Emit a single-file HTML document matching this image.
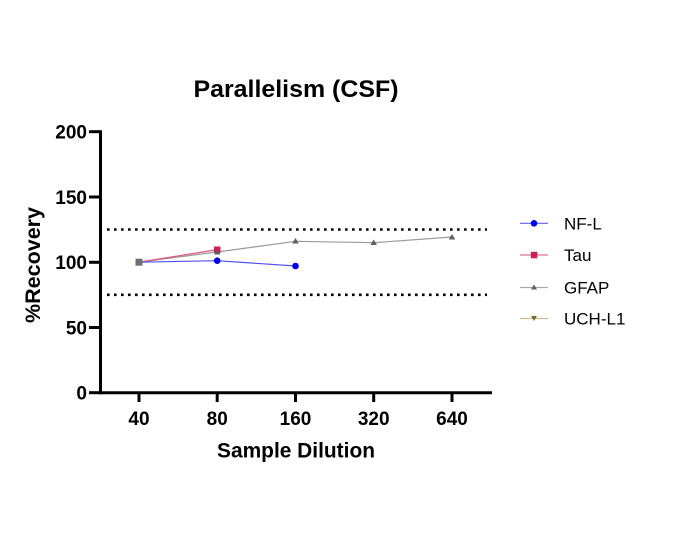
<!DOCTYPE html>
<html><head><meta charset="utf-8"><style>
html,body{margin:0;padding:0;background:#fff;}
svg{display:block;}
text{font-family:"Liberation Sans",Arial,sans-serif;}
</style></head><body>
<svg width="683" height="550" viewBox="0 0 683 550" xmlns="http://www.w3.org/2000/svg">
<rect width="683" height="550" fill="#fff"/>
<text x="296" y="97" font-size="24" font-weight="bold" text-anchor="middle" fill="#000" textLength="205" lengthAdjust="spacingAndGlyphs">Parallelism (CSF)</text>
<!-- dotted lines -->
<line x1="107" y1="229.5" x2="487" y2="229.5" stroke="#000" stroke-width="2.6" stroke-dasharray="2.6 4.4"/>
<line x1="107" y1="294.8" x2="487" y2="294.8" stroke="#000" stroke-width="2.6" stroke-dasharray="2.6 4.4"/>
<!-- axes -->
<line x1="100.5" y1="130.3" x2="100.5" y2="394.2" stroke="#000" stroke-width="3"/>
<line x1="99" y1="392.7" x2="492" y2="392.7" stroke="#000" stroke-width="3"/>
<g stroke="#000" stroke-width="3">
<line x1="89" y1="131.7" x2="100" y2="131.7"/>
<line x1="89" y1="197" x2="100" y2="197"/>
<line x1="89" y1="262.3" x2="100" y2="262.3"/>
<line x1="89" y1="327.5" x2="100" y2="327.5"/>
<line x1="89" y1="392.7" x2="100" y2="392.7"/>
<line x1="139" y1="392" x2="139" y2="402"/>
<line x1="217.2" y1="392" x2="217.2" y2="402"/>
<line x1="295.5" y1="392" x2="295.5" y2="402"/>
<line x1="373.7" y1="392" x2="373.7" y2="402"/>
<line x1="452" y1="392" x2="452" y2="402"/>
</g>
<g font-size="19" font-weight="bold" fill="#000" text-anchor="end">
<text x="87" y="138.5">200</text>
<text x="87" y="203.8">150</text>
<text x="87" y="269">100</text>
<text x="87" y="334.3">50</text>
<text x="87" y="399.5">0</text>
</g>
<g font-size="19" font-weight="bold" fill="#000" text-anchor="middle">
<text x="139" y="425">40</text>
<text x="217.2" y="425">80</text>
<text x="295.5" y="425">160</text>
<text x="373.7" y="425">320</text>
<text x="452" y="425">640</text>
</g>
<text x="296" y="457.5" font-size="21" font-weight="bold" text-anchor="middle" fill="#000" textLength="158" lengthAdjust="spacingAndGlyphs">Sample Dilution</text>
<text transform="translate(40,265) rotate(-90)" font-size="21" font-weight="bold" text-anchor="middle" fill="#000" textLength="116" lengthAdjust="spacingAndGlyphs">%Recovery</text>
<!-- series -->
<polyline points="139,262.2 217.2,252 295.5,241.3 373.7,242.7 452,237" fill="none" stroke="#9a9a9a" stroke-width="1.2"/>
<polyline points="139,262.2 217.2,249.7" fill="none" stroke="#d86088" stroke-width="1.3"/>
<polyline points="139,262.2 217.2,260.7 295.5,266" fill="none" stroke="#5050ee" stroke-width="1.2"/>
<!-- markers -->
<rect x="135.5" y="258.7" width="7" height="7" fill="#707070"/>
<circle cx="217.2" cy="260.7" r="3.3" fill="#0000f0"/>
<circle cx="295.5" cy="266" r="3.3" fill="#0000f0"/>
<rect x="214" y="246.5" width="6.5" height="6.5" fill="#cc1f5c"/>
<polygon points="217.2,249 220.5,254.5 214,254.5" fill="#606060"/>
<polygon points="295.5,238 298.8,243.5 292.2,243.5" fill="#606060"/>
<polygon points="373.7,239.5 377,245 370.4,245" fill="#606060"/>
<polygon points="452,234 455.3,239.5 448.7,239.5" fill="#606060"/>
<!-- legend -->
<line x1="520" y1="223.3" x2="548" y2="223.3" stroke="#6060f0" stroke-width="1.2"/>
<circle cx="534" cy="223.3" r="3.3" fill="#0000f0"/>
<line x1="520" y1="255" x2="548" y2="255" stroke="#e07090" stroke-width="1.2"/>
<rect x="530.8" y="251.8" width="6.5" height="6.5" fill="#cc1f5c"/>
<line x1="520" y1="287.5" x2="548" y2="287.5" stroke="#a8a8a8" stroke-width="1.2"/>
<polygon points="534,284.5 537,289.5 531,289.5" fill="#606060"/>
<line x1="520" y1="318.5" x2="548" y2="318.5" stroke="#c8c090" stroke-width="1.2"/>
<polygon points="531,316 537,316 534,321" fill="#7a6a30"/>
<g font-size="17" fill="#000">
<text x="564" y="229.5">NF-L</text>
<text x="564" y="261">Tau</text>
<text x="564" y="293.5">GFAP</text>
<text x="564" y="324.5">UCH-L1</text>
</g>
</svg>
</body></html>
